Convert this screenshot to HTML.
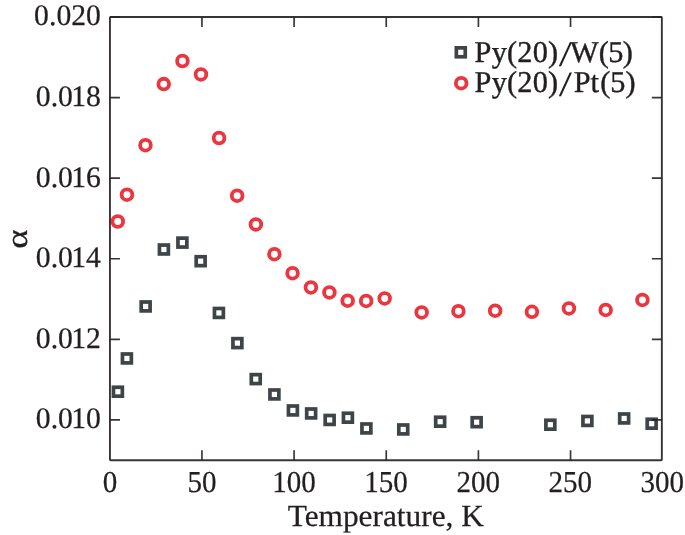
<!DOCTYPE html>
<html lang="en">
<head>
<meta charset="utf-8">
<title>Damping vs temperature</title>
<style>
html,body{margin:0;padding:0;background:#fff;}
body{width:685px;height:535px;overflow:hidden;}
svg{display:block;}
text{text-rendering:geometricPrecision;font-family:"Liberation Serif","Times New Roman",Times,serif;fill:#231f20;stroke:#231f20;stroke-width:0.25px;stroke-linejoin:round;}
.tk{font-size:29.8px;}
.tx{font-size:30.4px;}
.ti{font-size:30.7px;}
.lg{font-size:30.3px;stroke-width:0.4px;}
</style>
</head>
<body>
<svg width="685" height="535" viewBox="0 0 685 535">
<rect width="685" height="535" fill="#fff"/>
<g fill="none" stroke="#3e4548" stroke-width="3.7">
<rect x="113.45" y="387.25" width="8.9" height="8.9"/>
<rect x="122.45" y="354.00" width="8.9" height="8.9"/>
<rect x="141.20" y="302.00" width="8.9" height="8.9"/>
<rect x="159.45" y="245.05" width="8.9" height="8.9"/>
<rect x="177.95" y="238.15" width="8.9" height="8.9"/>
<rect x="196.20" y="256.75" width="8.9" height="8.9"/>
<rect x="214.45" y="308.50" width="8.9" height="8.9"/>
<rect x="232.95" y="338.65" width="8.9" height="8.9"/>
<rect x="251.30" y="374.65" width="8.9" height="8.9"/>
<rect x="269.95" y="390.00" width="8.9" height="8.9"/>
<rect x="288.45" y="406.00" width="8.9" height="8.9"/>
<rect x="306.70" y="409.00" width="8.9" height="8.9"/>
<rect x="325.20" y="415.50" width="8.9" height="8.9"/>
<rect x="343.45" y="413.25" width="8.9" height="8.9"/>
<rect x="361.95" y="424.00" width="8.9" height="8.9"/>
<rect x="398.80" y="425.00" width="8.9" height="8.9"/>
<rect x="435.70" y="417.25" width="8.9" height="8.9"/>
<rect x="472.20" y="417.75" width="8.9" height="8.9"/>
<rect x="545.90" y="420.25" width="8.9" height="8.9"/>
<rect x="582.95" y="416.50" width="8.9" height="8.9"/>
<rect x="619.70" y="414.00" width="8.9" height="8.9"/>
<rect x="647.20" y="419.25" width="8.9" height="8.9"/>
<rect x="456.35" y="47.85" width="8.9" height="8.9"/>
</g>
<g fill="none" stroke="#eb3640" stroke-width="3.8">
<circle cx="117.75" cy="221.50" r="5.35"/>
<circle cx="126.95" cy="194.70" r="5.35"/>
<circle cx="145.45" cy="145.20" r="5.35"/>
<circle cx="163.75" cy="84.10" r="5.35"/>
<circle cx="182.45" cy="61.00" r="5.35"/>
<circle cx="200.95" cy="74.40" r="5.35"/>
<circle cx="219.05" cy="138.00" r="5.35"/>
<circle cx="237.15" cy="195.70" r="5.35"/>
<circle cx="255.85" cy="224.40" r="5.35"/>
<circle cx="274.40" cy="254.20" r="5.35"/>
<circle cx="292.55" cy="273.20" r="5.35"/>
<circle cx="310.90" cy="287.45" r="5.35"/>
<circle cx="329.40" cy="292.45" r="5.35"/>
<circle cx="347.65" cy="300.70" r="5.35"/>
<circle cx="366.15" cy="300.95" r="5.35"/>
<circle cx="384.65" cy="298.45" r="5.35"/>
<circle cx="421.65" cy="312.45" r="5.35"/>
<circle cx="458.40" cy="311.20" r="5.35"/>
<circle cx="495.15" cy="310.70" r="5.35"/>
<circle cx="531.90" cy="311.80" r="5.35"/>
<circle cx="568.90" cy="308.45" r="5.35"/>
<circle cx="605.65" cy="309.95" r="5.35"/>
<circle cx="642.40" cy="299.95" r="5.35"/>
<circle cx="461.2" cy="83.2" r="5.35"/>
</g>
<g fill="none" stroke="#231f20" stroke-opacity="0.9" stroke-width="1.9" stroke-linejoin="round">
<rect x="109.95" y="17.00" width="551.90" height="443.20" rx="0.7"/>
<path stroke-width="1.65" d="M201.94 460.20 v-10 M201.94 17.00 v10 M294.09 460.20 v-10 M294.09 17.00 v10 M386.25 460.20 v-10 M386.25 17.00 v10 M478.40 460.20 v-10 M478.40 17.00 v10 M570.55 460.20 v-10 M570.55 17.00 v10 M109.95 17.00 h10 M661.85 17.00 h-10 M109.95 97.58 h10 M661.85 97.58 h-10 M109.95 178.16 h10 M661.85 178.16 h-10 M109.95 258.75 h10 M661.85 258.75 h-10 M109.95 339.33 h10 M661.85 339.33 h-10 M109.95 419.91 h10 M661.85 419.91 h-10"/>
</g>
<text class="tk" transform="translate(100.9 25.40) scale(0.996 1)" text-anchor="end">0.020</text>
<text class="tk" transform="translate(100.9 105.98) scale(0.996 1)" text-anchor="end" dx="0 0 0 -1.7">0.018</text>
<text class="tk" transform="translate(100.9 186.56) scale(0.996 1)" text-anchor="end" dx="0 0 0 -1.7">0.016</text>
<text class="tk" transform="translate(100.9 267.15) scale(0.996 1)" text-anchor="end" dx="0 0 0 -1.7">0.014</text>
<text class="tk" transform="translate(100.9 347.73) scale(0.996 1)" text-anchor="end" dx="0 0 0 -1.7">0.012</text>
<text class="tk" transform="translate(100.9 428.31) scale(0.996 1)" text-anchor="end" dx="0 0 0 -1.7">0.010</text>
<text class="tx" transform="translate(109.90 491.9) scale(0.955 1)" text-anchor="middle">0</text>
<text class="tx" transform="translate(201.97 491.9) scale(0.955 1)" text-anchor="middle">50</text>
<text class="tx" transform="translate(294.04 491.9) scale(0.955 1)" text-anchor="middle">100</text>
<text class="tx" transform="translate(386.11 491.9) scale(0.955 1)" text-anchor="middle">150</text>
<text class="tx" transform="translate(478.18 491.9) scale(0.955 1)" text-anchor="middle">200</text>
<text class="tx" transform="translate(570.25 491.9) scale(0.955 1)" text-anchor="middle">250</text>
<text class="tx" transform="translate(662.32 491.9) scale(0.955 1)" text-anchor="middle">300</text>
<text class="ti" transform="translate(385.8 525.8) scale(1.021 1)" text-anchor="middle">Temperature, K</text>
<text class="ti" stroke="#fff" stroke-width="0.4" transform="translate(26.9 239.2) rotate(-90) scale(1.2 0.98)" text-anchor="middle">α</text>
<text class="lg" x="474.6" y="61.5" letter-spacing="0.2">Py(20)<tspan stroke="none" font-size="35.5" dx="0.6" dy="4" textLength="13.5" lengthAdjust="spacingAndGlyphs">/</tspan><tspan dy="-4" dx="-2.5 0.2 -0.5 -0.6" letter-spacing="0">W(5)</tspan></text>
<text class="lg" x="474.6" y="92.4" letter-spacing="0.2">Py(20)<tspan stroke="none" font-size="35.5" dx="0.6" dy="4" textLength="13.5" lengthAdjust="spacingAndGlyphs">/</tspan><tspan dy="-4" dx="1.3 0 1.3" letter-spacing="0">Pt(5)</tspan></text>
</svg>
</body>
</html>
